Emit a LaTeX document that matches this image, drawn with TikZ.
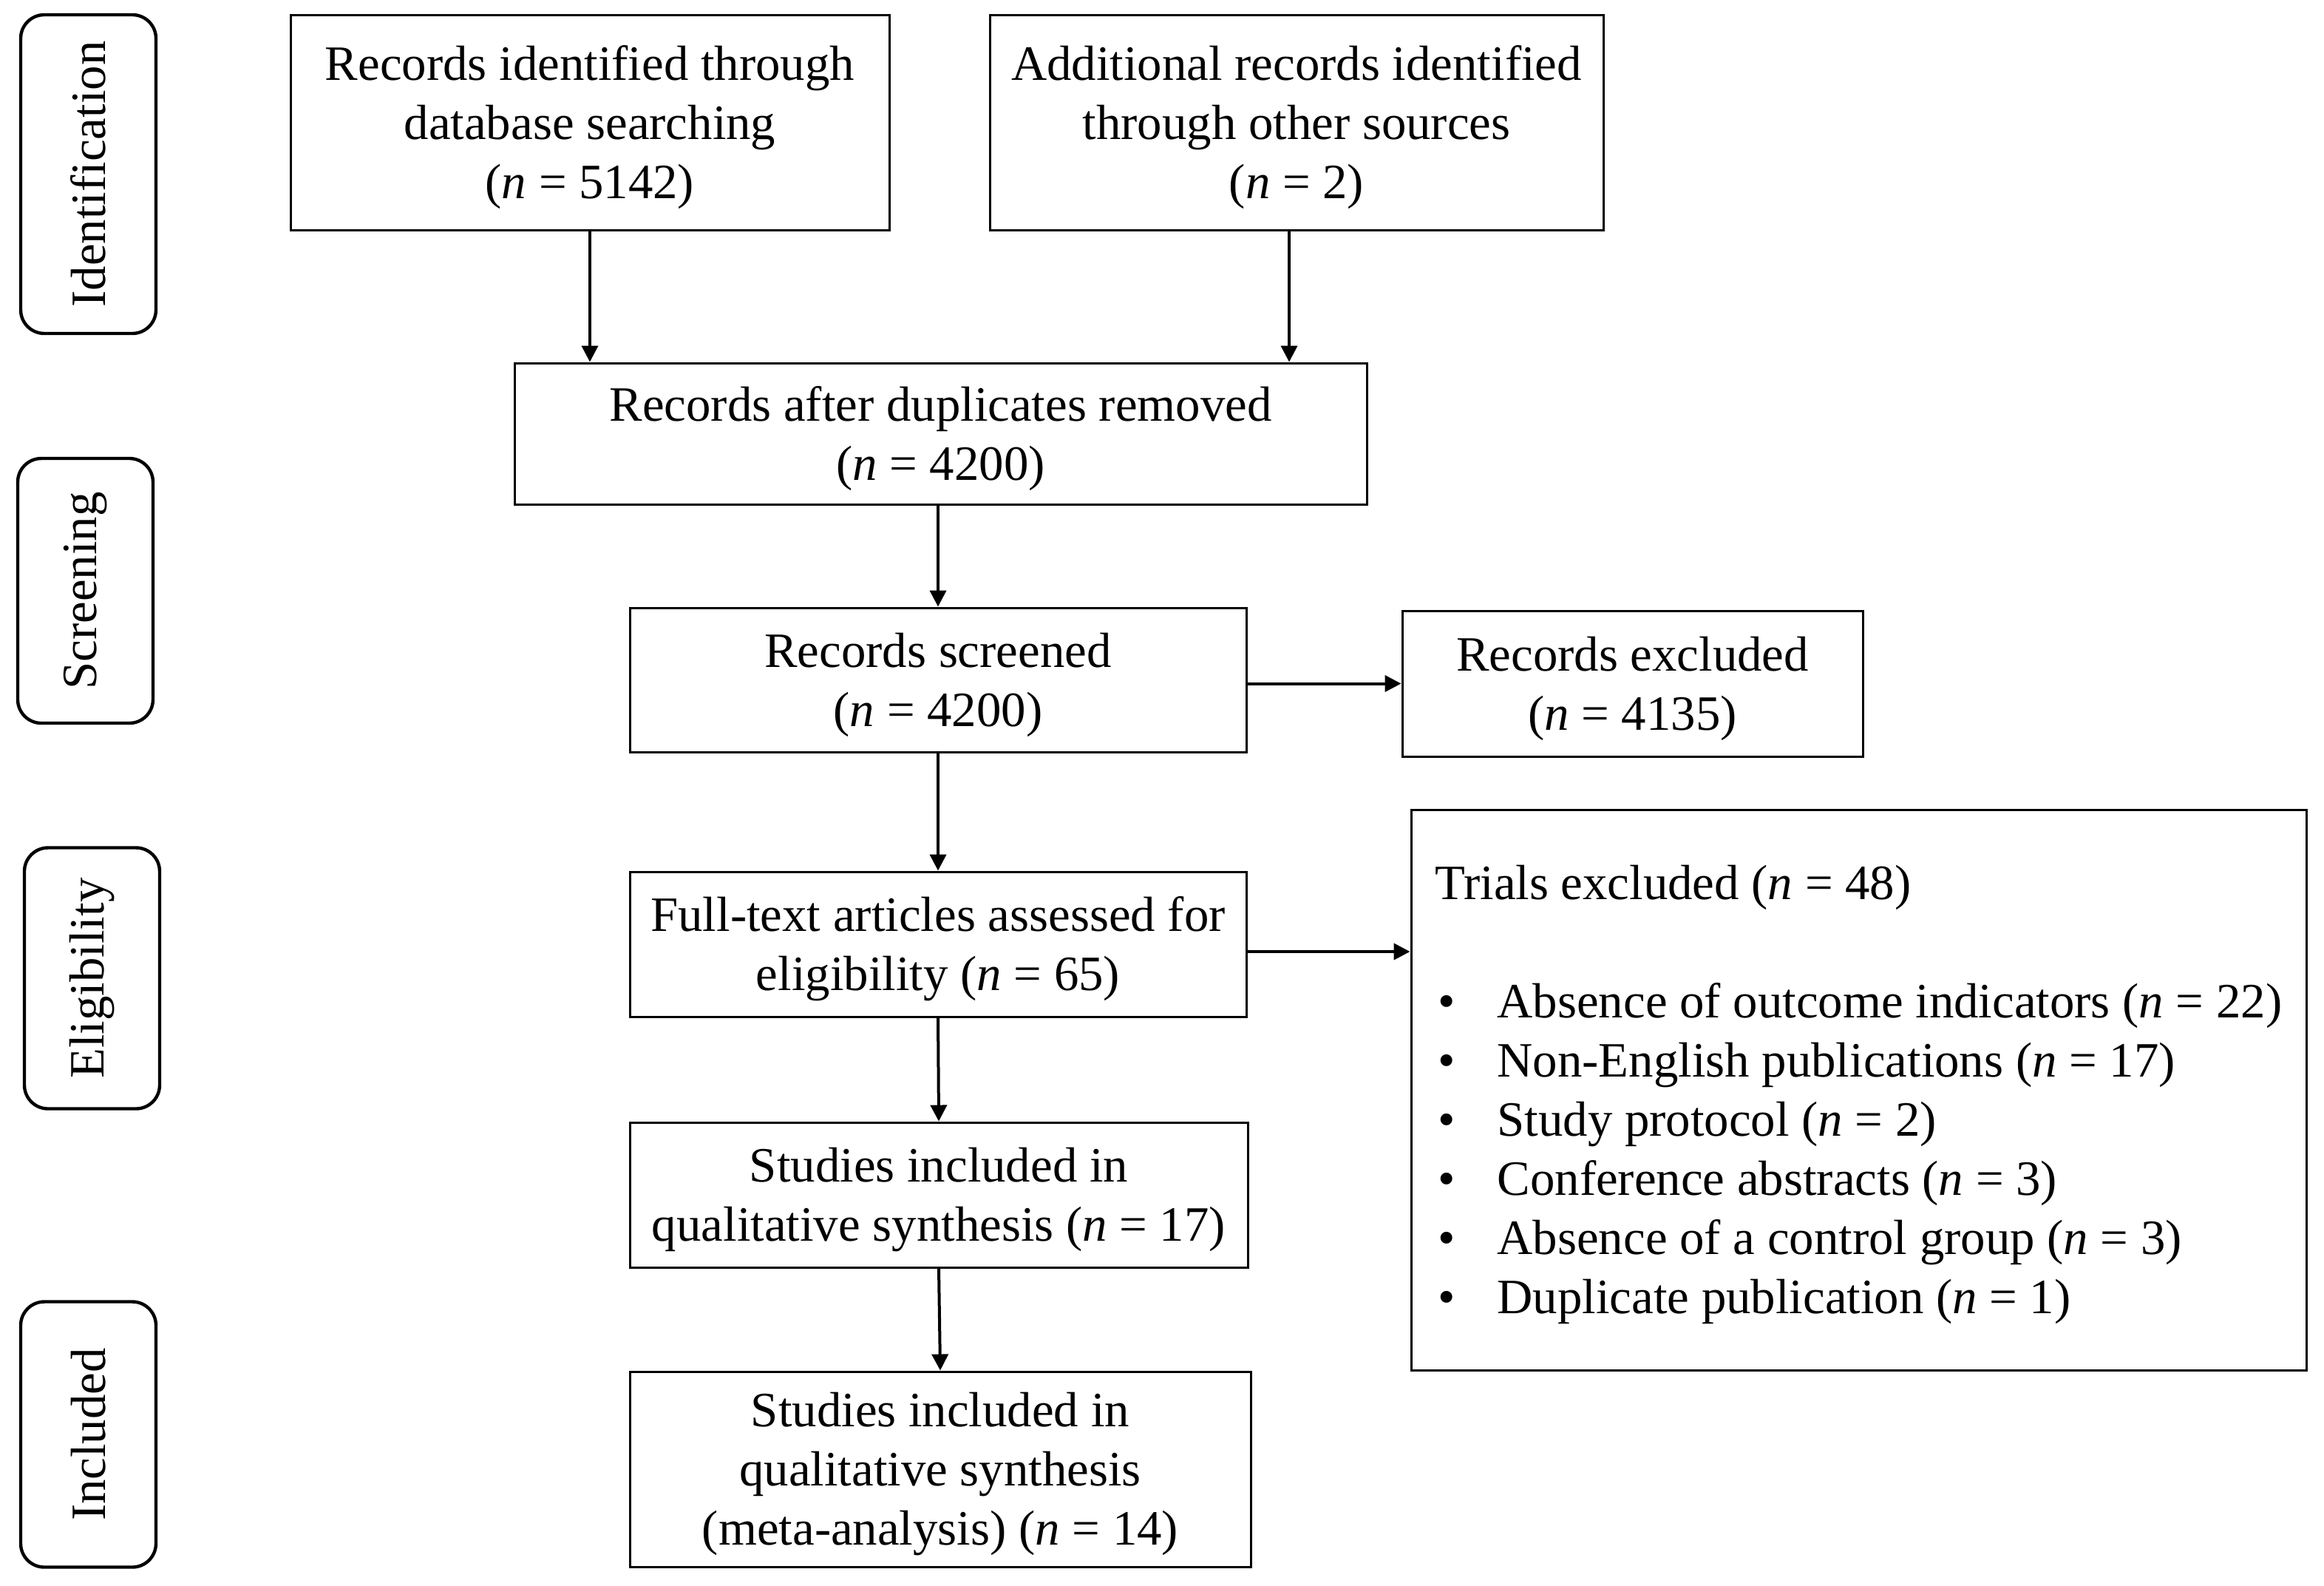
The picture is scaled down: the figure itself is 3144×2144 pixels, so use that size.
\documentclass[tikz,border=0pt]{standalone}
\usepackage{fontspec}
\setmainfont{Liberation Serif}
\usetikzlibrary{arrows.meta}
\newcommand{\nn}{\textit{n}~=~}
\newcommand{\itemdot}{\makebox[21pt][l]{\hspace{1pt}\textbullet}}
\newcommand{\up}{\rule{0pt}{15pt}}
\begin{document}
\begin{tikzpicture}[x=0.25pt,y=-0.25pt,
  every node/.style={font=\fontsize{16.7}{20}\selectfont},
  flowbox/.style={draw,line width=0.75pt,rectangle,inner sep=0pt,align=center},
  phase/.style={draw,line width=1.1pt,rectangle,rounded corners=8pt,rotate=90,inner sep=0pt,minimum height=45.75pt},
  arr/.style={line width=1pt,-{Triangle[length=5.5pt,width=5.5pt]}}]
\useasboundingbox (0,0) rectangle (3144,2144);
% phase labels
\node[phase,minimum width=107.75pt] (pid) at (119.5,235.5) {Identification};
\node[phase,minimum width=89.5pt] (psc) at (115.5,799) {Screening};
\node[phase,minimum width=88.25pt] (pel) at (124.5,1323) {Eligibility};
\node[phase,minimum width=89.75pt] (pin) at (119.5,1940) {Included};
% boxes
\node[flowbox,minimum width=202.5pt,minimum height=72.75pt] (A) at (798,165.5) {\up Records identified through\\database searching\\(\nn 5142)};
\node[flowbox,minimum width=207.5pt,minimum height=72.75pt] (B) at (1754,165.5) {\up Additional records identified\\through other sources\\(\nn 2)};
\node[flowbox,minimum width=288.25pt,minimum height=47.75pt] (C) at (1272.5,586.5) {\up Records after duplicates removed\\(\nn 4200)};
\node[flowbox,minimum width=208.5pt,minimum height=48.75pt] (D) at (1269,919.5) {\up Records screened\\(\nn 4200)};
\node[flowbox,minimum width=155.75pt,minimum height=49.25pt] (E) at (2208.5,924.5) {\up Records excluded\\(\nn 4135)};
\node[flowbox,minimum width=208.5pt,minimum height=49pt] (F) at (1269,1277) {\up Full-text articles assessed for\\eligibility (\nn 65)};
\node[flowbox,minimum width=302.75pt,minimum height=189.5pt,align=left] (G) at (2514.5,1474) {\up Trials excluded (\nn 48)\\[20pt]
\itemdot Absence of outcome indicators (\nn 22)\\
\itemdot Non-English publications (\nn 17)\\
\itemdot Study protocol (\nn 2)\\
\itemdot Conference abstracts (\nn 3)\\
\itemdot Absence of a control group (\nn 3)\\
\itemdot Duplicate publication (\nn 1)};
\node[flowbox,minimum width=209pt,minimum height=49pt] (H) at (1270,1616) {\up Studies included in\\qualitative synthesis (\nn 17)};
\node[flowbox,minimum width=210pt,minimum height=66pt] (I) at (1272,1987) {\up Studies included in\\qualitative synthesis\\(meta-analysis) (\nn 14)};
% arrows
\draw[arr] (A.south) -- (A.south |- C.north);
\draw[arr] ([xshift=-2.5pt]B.south) -- ([xshift=-2.5pt]B.south |- C.north);
\draw[arr] (C.south -| D.north) -- (D.north);
\draw[arr] (E.west -| D.east) -- (E.west);
\draw[arr] (D.south) -- (F.north);
\draw[arr] ([yshift=-2.5pt]F.east) -- ([yshift=-2.5pt]F.east -| G.west);
\draw[arr] (F.south) -- (H.north);
\draw[arr] (H.south) -- (I.north);
\end{tikzpicture}
\end{document}
